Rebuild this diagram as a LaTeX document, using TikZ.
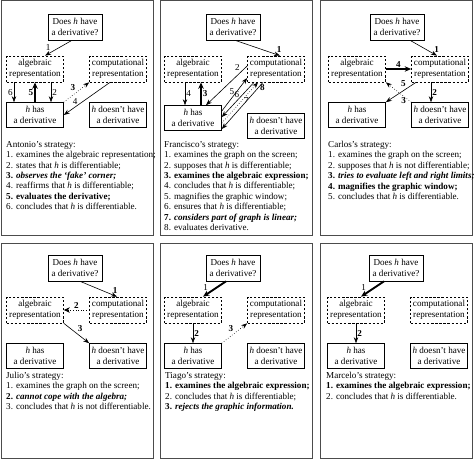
\documentclass[tikz,border=0pt]{standalone}
\usepackage{fontspec}
\setmainfont{Liberation Serif}
\usetikzlibrary{arrows.meta}

\newcommand{\fn}{\textit{h}}

\tikzset{
  panel/.style={draw=black!70, line width=0.8pt},
  qbox/.style={draw, line width=0.6pt, minimum width=54pt, minimum height=26pt, inner sep=1pt, align=center},
  repbox/.style={draw, dash pattern=on 2.5pt off 1.6pt, line width=0.7pt, minimum width=57pt, minimum height=26pt, inner sep=1pt, align=center},
  resbox/.style={draw, line width=0.6pt, minimum width=57pt, minimum height=25pt, inner sep=1pt, align=center},
  arr/.style={-{Stealth[length=6pt,width=4.4pt]}, line width=0.6pt},
  bigarr/.style={-{Stealth[length=6.5pt,width=5.5pt]}, line width=1.9pt},
  dotarr/.style={arr, dotted},
  lab/.style={inner sep=1pt},
  story/.style={anchor=north west, inner sep=0pt, align=left},
}

\begin{document}
\begin{tikzpicture}[x=1pt, y=-1pt, font=\fontsize{9.1}{10.4}\selectfont]
\useasboundingbox (0,0) rectangle (474,459);

% the six frames
\foreach \px in {1,160,320} {
  \draw[panel] (\px,0.5) rectangle (\px+152.5,235);
  \draw[panel] (\px,243) rectangle (\px+152.5,458.5);
}

% the five boxes of each panel
\foreach \p/\px/\py/\dh/\dy in {1/1/0/0/0, 2/159/0/3/11, 3/323/0/0/0, 4/1/241/0/0, 5/159/241/0/0, 6/322/241/0/0} {
  \begin{scope}[shift={(\px,\py)}]
    \node[qbox] (q\p) at (74,27) {Does \fn{} have\\a derivative?};
    \node[repbox] (alg\p) at (34,69) {algebraic\\representation};
    \node[repbox] (comp\p) at (117,69) {computational\\representation};
    \node[resbox] (has\p) at (34,115+\dh) {\fn{} has\\a derivative};
    \node[resbox] (not\p) at (117,115+\dy) {\fn{} doesn’t have\\a derivative};
  \end{scope}
}

% Antonio
\draw[arr] ([xshift=-3pt]q1.south) -- node[lab, pos=0.75, above left]{1} ([xshift=10pt]alg1.north);
\draw[arr] ([xshift=-21pt]alg1.south) -- node[lab, left]{6} ([xshift=-21pt]has1.north);
\draw[bigarr] (has1.north) -- node[lab, left]{\textbf{5}} (alg1.south);
\draw[arr] ([xshift=16pt]alg1.south) -- node[lab, right]{2} ([xshift=16pt]has1.north);
\draw[dotarr] (has1.north east) -- node[lab, above left=0pt]{\textbf{3}} (comp1.south west);
\draw[arr] ([xshift=-8pt]comp1.south) -- node[lab, pos=0.7, above left=-1pt]{4} (has1.east);
\node[story] (story1) at (6,141) {Antonio’s strategy:\\
1. examines the algebraic representation;\\
2. states that \fn{} is differentiable;\\
\textbf{3. \textit{observes the ‘fake’ corner;}}\\
4. reaffirms that \fn{} is differentiable;\\
\textbf{5. evaluates the derivative;}\\
6. concludes that \fn{} is differentiable.};

% Francisco
\draw[arr] ([xshift=2pt]q2.south) -- node[lab, pos=0.9, above right]{\textbf{1}} ([xshift=4pt]comp2.north);
\draw[arr] ([yshift=3pt]comp2.west) -- node[lab, pos=0.15, above left]{2} ([xshift=13pt]has2.north);
\draw[bigarr] ([xshift=8pt]has2.north) -- node[lab, right]{\textbf{3}} ([xshift=8pt]alg2.south);
\draw[arr] ([xshift=-8pt]alg2.south) -- node[lab, right]{4} ([xshift=-8pt]has2.north);
\draw[arr] ([yshift=7pt]has2.east) -- node[lab, above left=-1pt]{5} ([yshift=-9pt]comp2.west);
\draw[arr] ([xshift=-22pt]comp2.south) -- node[lab, pos=0.45, above left=-1pt]{6} ([yshift=1pt]has2.east);
\draw[dotarr] ([yshift=-5pt]has2.east) -- node[lab, pos=0.55, right=1pt]{7} ([xshift=-18pt]comp2.south);
\draw[arr] ([xshift=-13pt]comp2.south) -- node[lab, pos=0.1, right]{\textbf{8}} ([yshift=-11pt]has2.east);
\node[story] (story2) at (164,141) {Francisco’s strategy:\\
1. examines the graph on the screen;\\
2. supposes that \fn{} is differentiable;\\
\textbf{3. examines the algebraic expression;}\\
4. concludes that \fn{} is differentiable;\\
5. magnifies the graphic window;\\
6. ensures that \fn{} is differentiable;\\
\textbf{7. \textit{considers part of graph is linear;}}\\
8. evaluates derivative.};

% Carlos
\draw[arr] ([xshift=13pt]q3.south) -- node[lab, pos=0.85, above right]{\textbf{1}} ([xshift=-3pt]comp3.north);
\draw[bigarr] (alg3.east) -- node[lab, above]{\textbf{4}} (comp3.west);
\draw[arr] ([xshift=-9pt]comp3.south) -- node[lab, right]{\textbf{2}} ([xshift=-9pt]not3.north);
\draw[arr] ([xshift=-24pt]comp3.south) -- node[lab, pos=0.3, above left]{\textbf{5}} (has3.north east);
\draw[dotarr] (not3.north west) -- node[lab, pos=0.3, below]{\textbf{3}} (alg3.south east);
\node[story] (story3) at (328,141) {Carlos’s strategy:\\
1. examines the graph on the screen;\\
2. supposes that \fn{} is not differentiable;\\
\textbf{3. \textit{tries to evaluate left and right limits;}}\\
\textbf{4. magnifies the graphic window;}\\
5. concludes that \fn{} is differentiable.};

% Julio
\draw[arr] ([xshift=5pt]q4.south) -- node[lab, pos=0.85, above right]{\textbf{1}} ([xshift=-1pt]comp4.north);
\draw[dotarr, -{Stealth[length=6pt,width=5.5pt]}] (comp4.west) -- node[lab, above]{\textbf{2}} (alg4.east);
\draw[arr] (alg4.south east) -- node[lab, above right]{\textbf{3}} (not4.north west);
\node[story] (story4) at (6,372) {Julio’s strategy:\\
1. examines the graph on the screen;\\
\textbf{2. \textit{cannot cope with the algebra;}}\\
3. concludes that \fn{} is not differentiable.};

% Tiago
\draw[bigarr] ([xshift=-7pt]q5.south) -- node[lab, pos=0.7, above left]{1} ([xshift=10pt]alg5.north);
\draw[arr] (alg5.south) -- node[lab, right]{\textbf{2}} (has5.north);
\draw[dotarr] (has5.north east) -- node[lab, above left=0pt]{\textbf{3}} (comp5.south west);
\node[story] (story5) at (165,372) {Tiago’s strategy:\\
\textbf{1. examines the algebraic expression;}\\
2. concludes that \fn{} is differentiable;\\
\textbf{3. \textit{rejects the graphic information.}}};

% Marcelo
\draw[bigarr] ([xshift=-12pt]q6.south) -- node[lab, pos=0.7, above left]{1} ([xshift=5pt]alg6.north);
\draw[arr] (alg6.south) -- node[lab, right]{\textbf{2}} (has6.north);
\node[story] (story6) at (326,372) {Marcelo’s strategy:\\
\textbf{1. examines the algebraic expression;}\\
2. concludes that \fn{} is differentiable.};
\end{tikzpicture}
\end{document}
